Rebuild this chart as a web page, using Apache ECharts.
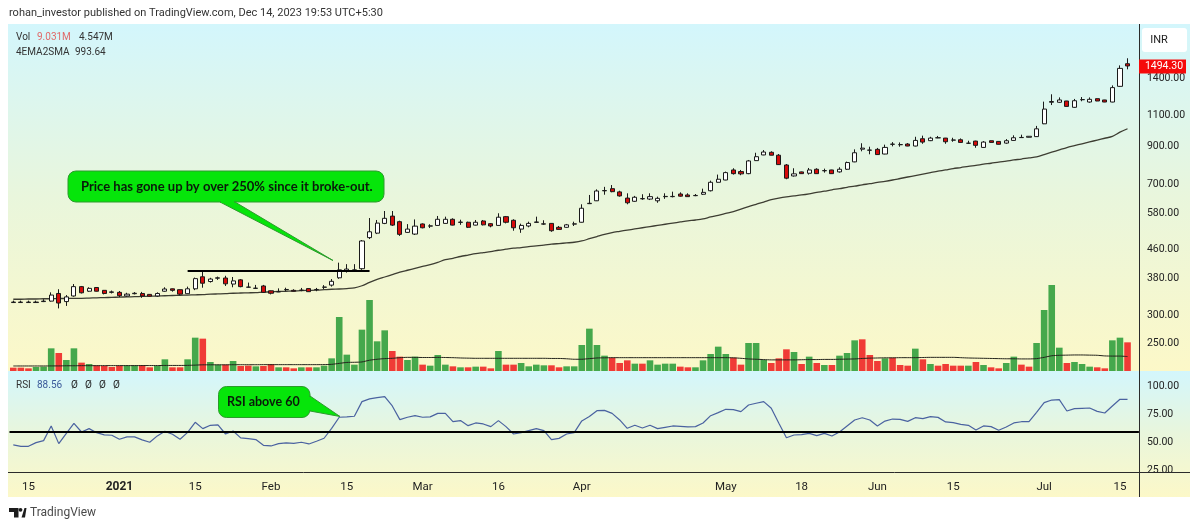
<!DOCTYPE html>
<html>
<head>
<meta charset="utf-8">
<title>rohan_investor on TradingView</title>
<script src="https://cdn.jsdelivr.net/npm/echarts@6/dist/echarts.min.js"></script>
<style>
html, body { margin: 0; padding: 0; background: #fff; }
#chart { width: 1200px; height: 529px; }
</style>
</head>
<body>
<div id="chart"></div>
<script>
const dates = [
    '2020-12-11', '2020-12-14', '2020-12-15', '2020-12-16', '2020-12-17', '2020-12-18', '2020-12-21', '2020-12-22', '2020-12-23', '2020-12-24',
    '2020-12-28', '2020-12-29', '2020-12-30', '2020-12-31', '2021-01-01', '2021-01-04', '2021-01-05', '2021-01-06', '2021-01-07', '2021-01-08',
    '2021-01-11', '2021-01-12', '2021-01-13', '2021-01-14', '2021-01-15', '2021-01-18', '2021-01-19', '2021-01-20', '2021-01-21', '2021-01-22',
    '2021-01-25', '2021-01-27', '2021-01-28', '2021-01-29', '2021-02-01', '2021-02-02', '2021-02-03', '2021-02-04', '2021-02-05', '2021-02-08',
    '2021-02-09', '2021-02-10', '2021-02-11', '2021-02-12', '2021-02-15', '2021-02-16', '2021-02-17', '2021-02-18', '2021-02-19', '2021-02-22',
    '2021-02-23', '2021-02-24', '2021-02-25', '2021-02-26', '2021-03-01', '2021-03-02', '2021-03-03', '2021-03-04', '2021-03-05', '2021-03-08',
    '2021-03-09', '2021-03-10', '2021-03-12', '2021-03-15', '2021-03-16', '2021-03-17', '2021-03-18', '2021-03-19', '2021-03-22', '2021-03-23',
    '2021-03-24', '2021-03-25', '2021-03-26', '2021-03-30', '2021-03-31', '2021-04-01', '2021-04-05', '2021-04-06', '2021-04-07', '2021-04-08',
    '2021-04-09', '2021-04-12', '2021-04-13', '2021-04-15', '2021-04-16', '2021-04-19', '2021-04-20', '2021-04-22', '2021-04-23', '2021-04-26',
    '2021-04-27', '2021-04-28', '2021-04-29', '2021-04-30', '2021-05-03', '2021-05-04', '2021-05-05', '2021-05-06', '2021-05-07', '2021-05-10',
    '2021-05-11', '2021-05-12', '2021-05-14', '2021-05-17', '2021-05-18', '2021-05-19', '2021-05-20', '2021-05-21', '2021-05-24', '2021-05-25',
    '2021-05-26', '2021-05-27', '2021-05-28', '2021-05-31', '2021-06-01', '2021-06-02', '2021-06-03', '2021-06-04', '2021-06-07', '2021-06-08',
    '2021-06-09', '2021-06-10', '2021-06-11', '2021-06-14', '2021-06-15', '2021-06-16', '2021-06-17', '2021-06-18', '2021-06-21', '2021-06-22',
    '2021-06-23', '2021-06-24', '2021-06-25', '2021-06-28', '2021-06-29', '2021-06-30', '2021-07-01', '2021-07-02', '2021-07-05', '2021-07-06',
    '2021-07-07', '2021-07-08', '2021-07-09', '2021-07-12', '2021-07-13', '2021-07-14', '2021-07-15', '2021-07-16'
];

const opens = [
    321, 321, 321, 321, 323, 324, 340.5, 323, 335, 356,
    345.5, 354, 347.5, 343, 343, 335, 340, 340.5, 338.5, 335,
    345.5, 351, 349, 340, 351, 379.5, 368, 376, 376.5, 362,
    372, 354.5, 352, 357.5, 346.5, 344, 349, 347.5, 347.5, 351.5,
    349, 354.5, 359.5, 377, 393, 396, 400, 489.5, 504, 537,
    563, 543, 506.5, 501, 535, 527.5, 530, 537, 551.5, 540.5,
    541, 531, 545.5, 536, 530, 561, 548, 517.5, 528, 540.5,
    534.5, 537, 523.5, 523.5, 534.5, 541, 610.5, 622, 663.5, 673,
    659, 633, 620, 630, 629, 622, 639, 639, 650, 646,
    643, 649, 664, 701.5, 712, 760, 752, 742, 807.5, 838,
    852.5, 836.5, 785, 731, 750.5, 744, 763.5, 756, 760, 750.5,
    763.5, 801, 870, 864, 869, 843, 898, 895.5, 899.5, 888,
    931, 919.5, 936.5, 935, 922.5, 925, 904, 917, 880, 919,
    915, 905, 921, 938, 940, 944, 1026, 1180, 1180, 1190,
    1142, 1200, 1182, 1208, 1198, 1182, 1309, 1516
];
const closes = [
    322, 322, 322, 322, 324, 337, 320, 333, 356, 342,
    352, 345.5, 340.5, 344, 335.5, 339, 341, 335, 334.5, 340.5,
    350.5, 347.5, 339, 351, 375, 364, 374, 377, 362.5, 369.5,
    356, 355, 352.5, 343, 341, 344.5, 349.5, 345.5, 348, 344.5,
    349.5, 355, 368.5, 397, 399, 397, 479, 508.5, 538, 555,
    531, 500, 517.5, 527.5, 522, 528.5, 551.5, 551.5, 531, 541.5,
    523.5, 541, 532, 528, 559, 541, 522, 530, 537, 542,
    535.5, 512, 516.5, 532, 535.5, 592.5, 612, 663, 665, 660,
    642, 614, 636.5, 631, 639, 632, 640, 640, 641, 639,
    644, 657, 701.5, 715.5, 747, 742, 741, 806, 828.5, 854,
    836.5, 787, 720.5, 741, 742, 760, 742, 757, 742, 763.5,
    797.5, 850, 876, 865, 840, 880, 899, 896.5, 888, 921,
    911, 935, 937, 913, 923.5, 909, 904.5, 892, 911, 909,
    898, 919, 937, 939, 946, 993, 1129, 1186, 1198, 1149,
    1192, 1201, 1203, 1190, 1182, 1298, 1471, 1494.3
];
const lows = [
    320, 320.5, 320.5, 320.5, 322, 323, 309, 314, 333.5, 340.5,
    344, 345, 338.5, 340.5, 332.5, 333.5, 338.5, 331, 334, 333.5,
    344.5, 344.5, 336.5, 339.5, 348, 353.5, 365.5, 372, 357.5, 354.5,
    354.5, 353.5, 350.5, 342, 338.5, 343.5, 345.5, 345, 345.5, 344,
    345.5, 350.5, 356, 374.5, 390, 395, 397, 485, 501, 534.5,
    528, 495, 505, 498, 520, 521, 529, 536.5, 530, 532,
    521, 530, 530, 523.5, 529, 537, 512, 505, 523.5, 539,
    532, 508.5, 516, 522, 528, 540, 609, 621, 647, 657.5,
    639, 608, 618, 626, 625, 614, 630, 636, 639, 638.5,
    641, 646, 661, 700, 711, 737.5, 734.5, 739.5, 806, 836.5,
    836, 785, 715.5, 728, 741, 737.5, 741.5, 747, 741.5, 747,
    760, 799.5, 858, 841.5, 839, 841.5, 886, 884, 887, 886,
    901, 917, 934.5, 901, 913, 908, 900, 878, 878, 908.5,
    897, 901, 919, 937, 939, 942, 1024, 1159, 1176, 1148,
    1139, 1188, 1177, 1189, 1181, 1180, 1305, 1462
];
const highs = [
    325, 325, 325, 325, 328, 343, 350, 337, 362, 357.5,
    354.5, 354.5, 348, 347, 346, 342, 343.5, 344, 339, 343,
    354.5, 351.5, 349.5, 356, 377.5, 392, 377, 380, 382, 379,
    374, 365.5, 360, 360, 347, 352, 353.5, 350, 353, 352,
    353, 359.5, 374, 416, 412, 412, 482, 556, 549, 582,
    582, 546.5, 534.5, 551, 537, 534, 563.5, 561, 555, 550,
    543, 549, 549, 538, 573.5, 563.5, 551.5, 536, 543, 561,
    548, 538, 528, 535, 543, 608, 646, 670, 681, 689,
    664, 653, 642, 649, 653, 639, 653, 660, 657, 653,
    650, 673, 709, 737.5, 752, 768.5, 760, 811, 850, 865,
    858, 843, 790, 768.5, 752, 770, 768.5, 766.5, 761, 773.5,
    802.5, 869, 904, 884, 877, 896, 911, 909, 905, 943,
    950, 943, 948, 936, 937, 933, 919, 919, 917, 920,
    916, 929, 952, 956, 947, 1012, 1185, 1243, 1218, 1191,
    1206, 1221, 1218, 1209, 1199, 1317, 1500, 1571
];
// 4 week EMA / 2 SMA overlay
const ema = [
    328, 328, 328.5, 328.5, 329, 329, 329.5, 329.5, 330, 330,
    330.5, 331, 331.5, 332, 332.5, 333, 333.5, 334, 334.5, 335,
    335.5, 336, 336.5, 337, 337.5, 338, 339, 339.5, 340, 341,
    341.5, 342, 342.5, 343.5, 344, 345, 345.5, 346, 347, 347.5,
    348, 349, 350, 350.5, 351.5, 353, 358, 366, 373, 379,
    385, 391, 396, 401, 406, 411, 417, 424, 428, 433,
    437, 441, 444, 447, 451, 454, 457, 459, 462, 464,
    466, 469, 471, 473, 475, 479, 486, 493, 500, 506,
    510, 514, 518, 522, 526, 530, 534, 538, 542, 546,
    549, 553, 560, 566, 573, 580, 589, 599, 608, 617,
    627, 633, 638, 642, 646, 651, 657, 662, 668, 673,
    679, 684, 690, 695, 701, 706, 712, 719, 726, 733,
    740, 747, 754, 760, 767, 772, 778, 783, 789, 794,
    800, 805, 811, 816, 822, 827, 840, 853, 866, 879,
    890, 901, 912, 923, 934, 945, 972, 993.64
];

// volume in millions
const volumes = [
    1.05, 1.05, 0.84, 1.26, 1.37, 7.14, 5.67, 3.47, 7.14, 2.63,
    2.21, 1.79, 1.58, 1.26, 1.68, 1.79, 1.79, 1.89, 1.16, 1.58,
    3.68, 1.16, 1.16, 3.68, 10.5, 10.19, 2.84, 2, 2, 3.15,
    1.58, 1.68, 1.47, 1.58, 2.21, 1.16, 1.16, 0.84, 1.16, 1.16,
    1.16, 1.68, 3.99, 17.01, 5.15, 2, 13.02, 22.37, 9.35, 12.81,
    6.3, 4.52, 3.47, 4.52, 2, 1.68, 5.04, 2, 1.47, 1.16,
    1.16, 1.37, 1.37, 0.84, 6.3, 2, 2, 2.52, 1.47, 2,
    1.79, 1.79, 1.16, 1.47, 1.47, 8.19, 13.34, 8.19, 4.83, 4.2,
    2.52, 3.36, 2.31, 2.31, 3.36, 2, 2.31, 2.31, 1.37, 1.16,
    1.16, 3.36, 5.36, 7.67, 5.36, 4.2, 2, 8.82, 8.82, 3.47,
    2.52, 3.99, 6.83, 5.99, 2.21, 4.52, 2.52, 1.89, 1.89, 4.83,
    5.67, 9.66, 9.98, 5.04, 3.15, 3.99, 4.2, 1.89, 1.68, 7.04,
    3.68, 2.21, 1.68, 2.21, 1.68, 1.68, 1.68, 2.84, 1.89, 1.16,
    0.84, 2.52, 4.52, 2, 1.37, 8.82, 19.22, 27.09, 7.35, 2.52,
    2.84, 2.21, 1.37, 1.16, 0.84, 9.66, 10.5, 9.031
];
const redVolumes = [
    0, 1, 2, 6, 9, 11, 12, 13, 14, 17, 18, 21, 22, 25, 28, 30, 31, 33, 34, 36, 37, 39,
    50, 51, 54, 58, 60, 62, 63, 65, 66, 71, 72, 79, 80, 81, 83, 88, 89, 95, 96,
    100, 101, 102, 104, 106, 108, 112, 113, 114, 116, 117, 118, 120, 122, 123, 124, 125,
    127, 129, 130, 133, 134, 139, 143, 144, 147
];
const volumeMa = [
    1.58, 1.58, 1.58, 1.58, 1.58, 1.6, 1.6, 1.65, 1.65, 1.68,
    1.68, 1.68, 1.7, 1.7, 1.7, 1.7, 1.7, 1.72, 1.72, 1.72,
    1.75, 1.75, 1.75, 1.78, 1.85, 1.95, 1.95, 1.95, 1.95, 1.98,
    1.98, 1.98, 1.98, 2, 2, 2, 2, 2, 2, 2,
    2, 2.02, 2.1, 2.4, 2.7, 2.75, 2.85, 3.4, 3.7, 3.9,
    4, 4.2, 4.3, 4.3, 4.25, 4.25, 4.3, 4.25, 4.2, 4.1,
    4.05, 4, 4, 4, 4, 4, 4, 4, 4, 4,
    4, 3.95, 3.95, 3.85, 3.7, 3.7, 3.9, 4.1, 4.15, 4.2,
    4.2, 4.2, 4.2, 4.2, 4.2, 4.2, 4.2, 4.2, 4.2, 4.2,
    4.2, 4.2, 4.2, 4.2, 4.2, 4.15, 4, 3.8, 3.7, 3.6,
    3.5, 3.5, 3.5, 3.5, 3.55, 3.6, 3.6, 3.65, 3.65, 3.7,
    3.75, 3.8, 3.95, 4.05, 4.1, 4.15, 4.15, 4.2, 4.2, 4.2,
    4.25, 4.3, 4.3, 4.3, 4.3, 4.2, 4.1, 4.05, 4, 3.95,
    3.9, 3.85, 3.85, 3.8, 3.8, 3.9, 4.3, 4.8, 4.95, 5,
    5.05, 5.05, 5, 4.95, 4.75, 4.7, 4.7, 4.547
];
const rsi = [
    47.8, 46.6, 46.6, 49.9, 51.7, 64.8, 49, 58.2, 67.2, 59.4,
    62.4, 58.8, 56.8, 56.5, 52.9, 55, 55, 52.3, 50.2, 55.9,
    60, 57.4, 52.9, 59.1, 68.1, 62.4, 65.4, 65.7, 57.6, 60.3,
    54.1, 53.5, 52.6, 47.5, 46.9, 49, 49.6, 49.3, 50.2, 48.7,
    51.1, 53.8, 62.7, 72.6, 72.9, 73.5, 86.6, 89, 90.2, 91.1,
    82.7, 70.5, 72.6, 74, 72.6, 72.9, 76.1, 76.1, 68.7, 69.6,
    65.1, 67.5, 66.6, 64.2, 69.6, 64.2, 57.6, 58.8, 60.6, 62.4,
    60.6, 52.5, 53.7, 57.6, 58.8, 69.3, 73.2, 78.5, 78.8, 76.1,
    70.2, 62.7, 65.4, 63, 65.4, 62.4, 63.6, 64.8, 64.5, 63.9,
    64.2, 67.5, 74, 76.7, 79.7, 79.4, 77.6, 83.6, 85.1, 86.6,
    80.6, 67.2, 54.3, 56.7, 57, 58.2, 56.1, 58.2, 55.8, 59.4,
    64.8, 70.1, 72.2, 70.1, 64.8, 69.2, 71, 70.7, 68.9, 72.2,
    71.3, 73.1, 72.5, 68.4, 67.8, 66.3, 65.4, 61.2, 64.8, 64.2,
    60.9, 63.9, 67.5, 68.6, 68.6, 77, 85.7, 88, 88.4, 78.2,
    80.3, 80.6, 80.9, 77.9, 76.4, 82.7, 88.7, 88.56
];

const priceTicks = [250, 300, 380, 460, 580, 700, 900, 1100, 1400];
const rsiTicks = [25, 50, 75, 100];
const timeTickDates = ['2020-12-15', '2021-01-01', '2021-01-15', '2021-02-01', '2021-02-15', '2021-03-01', '2021-03-16',
    '2021-04-01', '2021-05-03', '2021-05-18', '2021-06-01', '2021-06-15', '2021-07-01', '2021-07-15'];
const timeTickLabels = ['15', '2021', '15', 'Feb', '15', 'Mar', '16', 'Apr', 'May', '18', 'Jun', '15', 'Jul', '15'];

const resistanceLevel = 394.5;
const resistanceFrom = '2021-01-14';
const resistanceTo = '2021-02-18';
const rsiLevel = 60;

const GRID_LEFT = 9.5;
const GRID_WIDTH = 1129.4;
const UI_FONT = 'Roboto, sans-serif';
const BUBBLE_GREEN = '#06e50a';
const BUBBLE_EDGE = '#2c9a2c';

const categories = dates.concat(['']);
const candleData = dates.map((d, i) => [opens[i], closes[i], lows[i], highs[i]]);
const volumeData = volumes.map((v, i) => ({
    value: v,
    itemStyle: { color: redVolumes.includes(i) ? '#f03b36' : '#45a84c' }
}));

function paneGradient() {
    return new echarts.graphic.LinearGradient(0, 0, 0, 1, [
        { offset: 0, color: '#d3f6fc' },
        { offset: 0.5, color: '#e9f6dc' },
        { offset: 1, color: '#fcf8c8' }
    ]);
}

function label(text, x, y, size, fill, extra) {
    return {
        type: 'text',
        z: 50,
        silent: true,
        style: Object.assign({
            x, y, text, fill,
            font: size + 'px ' + UI_FONT,
            verticalAlign: 'middle'
        }, extra || {})
    };
}

function frameLine(x1, y1, x2, y2) {
    return { type: 'line', z: 40, silent: true, shape: { x1, y1, x2, y2 }, style: { stroke: '#2b2b2b', lineWidth: 1 } };
}

// speech bubble: rect, tail, then a stroke over the seam between them
function bubble(x, y, w, h, tail, seam, text, tx, ty, size) {
    return [
        { type: 'rect', z: 60, silent: true, shape: { x, y, width: w, height: h, r: 8 }, style: { fill: BUBBLE_GREEN, stroke: BUBBLE_EDGE, lineWidth: 1 } },
        { type: 'polygon', z: 60, silent: true, shape: { points: tail }, style: { fill: BUBBLE_GREEN, stroke: BUBBLE_EDGE, lineWidth: 1 } },
        { type: 'line', z: 61, silent: true, shape: { x1: seam[0], y1: seam[1], x2: seam[2], y2: seam[3] }, style: { stroke: BUBBLE_GREEN, lineWidth: 2 } },
        {
            type: 'text', z: 62, silent: true,
            style: { x: tx, y: ty, text, fill: '#0a1a0a', font: 'bold ' + size + 'px Lato, sans-serif', verticalAlign: 'middle' }
        }
    ];
}

const chart = echarts.init(document.getElementById('chart'), null, { renderer: 'canvas' });

chart.setOption({
    animation: false,
    backgroundColor: '#fff',
    grid: [
        { left: GRID_LEFT, width: GRID_WIDTH, top: 24, height: 347 },
        { left: GRID_LEFT, width: GRID_WIDTH, top: 271, height: 100 },
        { left: GRID_LEFT, width: GRID_WIDTH, top: 371, height: 102 }
    ],
    xAxis: [
        { type: 'category', gridIndex: 0, data: categories, axisLine: { show: false }, axisTick: { show: false }, axisLabel: { show: false } },
        { type: 'category', gridIndex: 1, data: categories, axisLine: { show: false }, axisTick: { show: false }, axisLabel: { show: false } },
        {
            type: 'category',
            gridIndex: 2,
            data: categories,
            axisLine: { show: false },
            axisTick: { show: false },
            axisLabel: {
                margin: 8,
                fontFamily: UI_FONT,
                fontSize: 11.5,
                color: '#222',
                hideOverlap: false,
                interval: (i, value) => timeTickDates.includes(value),
                formatter: value => {
                    const text = timeTickLabels[timeTickDates.indexOf(value)];
                    return text === '2021' ? '{year|2021}' : text;
                },
                rich: { year: { fontWeight: 'bold', fontFamily: UI_FONT, fontSize: 12, color: '#222' } }
            }
        }
    ],
    yAxis: [
        {
            type: 'log',
            gridIndex: 0,
            position: 'right',
            min: 205.7,
            max: 1963,
            splitLine: { show: false },
            axisLine: { show: false },
            axisTick: { show: false },
            axisLabel: {
                customValues: priceTicks,
                margin: 8,
                verticalAlign: 'top',
                lineHeight: 4,
                fontFamily: UI_FONT,
                fontSize: 10.5,
                color: '#222',
                formatter: v => v.toFixed(2)
            }
        },
        { type: 'value', gridIndex: 1, min: 0, max: 31.5, show: false, splitLine: { show: false } },
        {
            type: 'value',
            gridIndex: 2,
            position: 'right',
            min: 22.7,
            max: 114,
            splitLine: { show: false },
            axisLine: { show: false },
            axisTick: { show: false },
            axisLabel: {
                customValues: rsiTicks,
                margin: 8,
                fontFamily: UI_FONT,
                fontSize: 10.5,
                color: '#222',
                formatter: v => v.toFixed(2)
            }
        }
    ],
    series: [
        {
            type: 'bar',
            name: 'Vol',
            xAxisIndex: 1,
            yAxisIndex: 1,
            barWidth: 6.6,
            data: volumeData,
            z: 2
        },
        {
            type: 'line',
            name: 'Vol MA',
            xAxisIndex: 1,
            yAxisIndex: 1,
            data: volumeMa,
            symbol: 'none',
            smooth: 0.2,
            lineStyle: { color: '#23231c', width: 1 },
            z: 3
        },
        {
            type: 'line',
            name: '4EMA2SMA',
            xAxisIndex: 0,
            yAxisIndex: 0,
            data: ema,
            symbol: 'none',
            smooth: 0.3,
            lineStyle: { color: '#3d3d32', width: 1.3 },
            z: 3
        },
        {
            type: 'candlestick',
            name: 'Price',
            xAxisIndex: 0,
            yAxisIndex: 0,
            barWidth: 4.6,
            data: candleData,
            itemStyle: {
                color: '#ffffff',
                color0: '#d60a0a',
                borderColor: '#1a1a1a',
                borderColor0: '#1a1a1a',
                borderWidth: 1
            },
            markLine: {
                silent: true,
                symbol: 'none',
                label: { show: false },
                lineStyle: { color: '#000', width: 2, type: 'solid' },
                data: [[
                    { coord: [resistanceFrom, resistanceLevel] },
                    { coord: [resistanceTo, resistanceLevel] }
                ]]
            },
            z: 4
        },
        {
            type: 'line',
            name: 'RSI',
            xAxisIndex: 2,
            yAxisIndex: 2,
            data: rsi,
            symbol: 'none',
            lineStyle: { color: '#4a62a0', width: 1.2 },
            markLine: {
                silent: true,
                symbol: 'none',
                label: { show: false },
                lineStyle: { color: '#000', width: 2, type: 'solid' },
                data: [{ yAxis: rsiLevel }]
            },
            z: 3
        }
    ],
    graphic: [
        // pane backgrounds
        { type: 'rect', z: -10, silent: true, shape: { x: 8, y: 24, width: 1182, height: 347 }, style: { fill: paneGradient() } },
        { type: 'rect', z: -10, silent: true, shape: { x: 8, y: 371, width: 1182, height: 126 }, style: { fill: paneGradient() } },
        frameLine(1139.5, 24, 1139.5, 497),
        frameLine(8, 472.5, 1190, 472.5),

        // header and legends
        label('rohan_investor published on TradingView.com, Dec 14, 2023 19:53 UTC+5:30', 9, 13, 11, '#333'),
        label('Vol', 16, 37, 10, '#333'),
        label(volumes[volumes.length - 1].toFixed(3) + 'M', 37, 37, 10, '#e06a6a'),
        label(volumeMa[volumeMa.length - 1].toFixed(3) + 'M', 79, 37, 10, '#333'),
        label('4EMA2SMA', 16, 52.5, 10, '#333'),
        label(ema[ema.length - 1].toFixed(2), 75, 52.5, 10, '#333'),
        label('RSI', 16, 385, 10, '#333'),
        label(rsi[rsi.length - 1].toFixed(2), 37, 385, 10, '#3b5a9a'),
        label('\u00d8', 71, 385, 10, '#222'),
        label('\u00d8', 85, 385, 10, '#222'),
        label('\u00d8', 99, 385, 10, '#222'),
        label('\u00d8', 113, 385, 10, '#222'),

        // currency box and last price tag
        { type: 'rect', z: 45, silent: true, shape: { x: 1142, y: 28, width: 45, height: 24, r: 3 }, style: { fill: '#fff' } },
        label('INR', 1159, 40, 11, '#222', { textAlign: 'center' }),
        { type: 'rect', z: 45, silent: true, shape: { x: 1139, y: 59.5, width: 47, height: 14 }, style: { fill: '#f50a0a' } },
        label(closes[closes.length - 1].toFixed(2), 1164, 66.5, 10.5, '#fff', { textAlign: 'center' }),

        // annotations
        ...bubble(68, 171, 316, 31, [[220, 202], [235, 202], [333, 260.5]], [221, 202, 234, 202],
            'Price has gone up by over 250% since it broke-out.', 81, 186.5, 13),
        ...bubble(218.5, 386.5, 91.5, 31, [[310, 396], [340, 416.5], [310, 411]], [310, 397, 310, 410],
            'RSI above 60', 227, 401.5, 12.5),

        // TradingView mark
        { type: 'polygon', z: 50, silent: true, shape: { points: [[9, 508], [18.5, 508], [18.5, 517.5], [14, 517.5], [14, 512], [9, 512]] }, style: { fill: '#1c1c1c' } },
        { type: 'circle', z: 50, silent: true, shape: { cx: 20.5, cy: 509.8, r: 1.9 }, style: { fill: '#1c1c1c' } },
        { type: 'polygon', z: 50, silent: true, shape: { points: [[21.5, 517.5], [24.5, 508], [26.5, 508], [25, 517.5]] }, style: { fill: '#1c1c1c' } },
        label('TradingView', 30, 513, 12, '#4a4a4a')
    ]
});
</script>
</body>
</html>
